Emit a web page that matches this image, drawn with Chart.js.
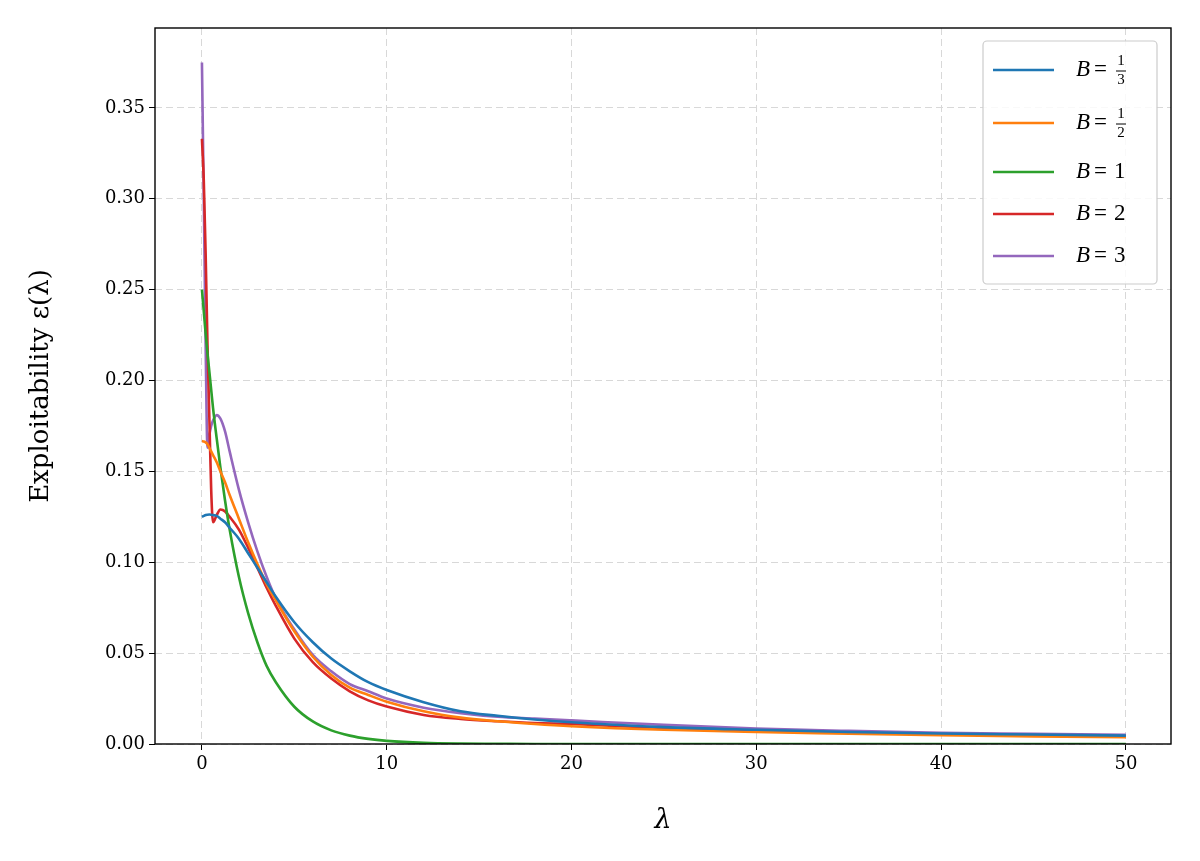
<!DOCTYPE html>
<html><head><meta charset="utf-8">
<script src="https://cdn.jsdelivr.net/npm/chart.js@4"></script>
<style>body{margin:0;background:#fff}#w{width:1200px;height:861px}</style>
</head><body><div id="w"><canvas id="c"></canvas></div>
<script>
const lambdas = [0,0.1,0.2,0.3,0.4,0.5,0.6,0.8,1.0,1.25,1.5,2,2.5,3,3.5,4,5,6,7,8,9,10,12,14,16,18,20,25,30,35,40,45,50];
const bThird = [0.125,0.1255,0.126,0.1262,0.1263,0.1262,0.126,0.1255,0.124,0.122,0.119,0.113,0.105,0.097,0.089,0.081,0.067,0.056,0.047,0.040,0.034,0.0297,0.023,0.018,0.0155,0.0135,0.012,0.0093,0.0078,0.0066,0.0058,0.0052,0.0046];
const bHalf = [0.1667,0.1665,0.166,0.165,0.163,0.161,0.159,0.155,0.150,0.144,0.137,0.124,0.111,0.099,0.088,0.079,0.062,0.048,0.038,0.031,0.027,0.0233,0.018,0.0145,0.0125,0.011,0.0098,0.0078,0.0066,0.0057,0.0048,0.0042,0.0037];
const bOne = [0.25,0.238,0.226,0.215,0.205,0.195,0.185,0.168,0.152,0.134,0.118,0.092,0.072,0.056,0.043,0.034,0.0205,0.0124,0.0075,0.0046,0.0028,0.0017,0.0006,0.0002,0.0001,0,0,0,0,0,0,0,0];
const bTwo = [0.333,0.31,0.27,0.22,0.18,0.14,0.122,0.126,0.129,0.128,0.125,0.118,0.108,0.097,0.086,0.076,0.058,0.045,0.036,0.029,0.024,0.0206,0.016,0.0138,0.0125,0.0115,0.011,0.0088,0.0073,0.0062,0.0053,0.0048,0.0043];
const bThree = [0.375,0.30,0.22,0.163,0.17,0.175,0.178,0.181,0.179,0.172,0.161,0.140,0.122,0.106,0.092,0.080,0.063,0.049,0.040,0.033,0.029,0.025,0.020,0.017,0.015,0.014,0.013,0.0105,0.0085,0.0072,0.0062,0.0056,0.005];
const xTicks = [0,10,20,30,40,50];
const yTicks = [0,0.05,0.10,0.15,0.20,0.25,0.30,0.35];
const legendLabels = [["1","3"],["1","2"],"1","2","3"];
const colors = ['#1f77b4','#ff7f0e','#2ca02c','#d62728','#9467bd'];
const series = [bThird,bHalf,bOne,bTwo,bThree];
const serif = "'DejaVu Serif', serif";

const datasets = series.map((s,i)=>({
  label:'B'+i, data: lambdas.map((x,j)=>({x, y:s[j]})),
  borderColor:colors[i], borderWidth:2.6, pointRadius:0, fill:false,
  cubicInterpolationMode:'monotone'
}));

const frame = {id:'frame', afterDraw(ch){
  const {ctx, chartArea:a} = ch;
  ctx.save(); ctx.strokeStyle='#000'; ctx.lineWidth=1.4;
  ctx.strokeRect(a.left,a.top,a.right-a.left,a.bottom-a.top);
  const lx=983, ly=41, lw=174, lh=243;
  ctx.fillStyle='rgba(255,255,255,0.85)'; ctx.strokeStyle='#ccc'; ctx.lineWidth=1.2;
  ctx.beginPath(); ctx.roundRect(lx,ly,lw,lh,4); ctx.fill(); ctx.stroke();
  const rows=[70,123,172,214,256];
  legendLabels.forEach((lab,i)=>{
    const y=rows[i];
    ctx.strokeStyle=colors[i]; ctx.lineWidth=2.6;
    ctx.beginPath(); ctx.moveTo(993,y); ctx.lineTo(1054,y); ctx.stroke();
    ctx.fillStyle='#000'; ctx.textBaseline='middle'; ctx.textAlign='left';
    ctx.font="italic 23px 'Liberation Serif', serif";
    ctx.fillText('B',1076,y);
    ctx.font="23px 'Liberation Serif', serif";
    ctx.fillText('=',1094,y);
    if (Array.isArray(lab)) {
      ctx.font="15px 'Liberation Serif', serif"; ctx.textAlign='center';
      ctx.fillText(lab[0],1121,y-9); ctx.fillText(lab[1],1121,y+10);
      ctx.lineWidth=1; ctx.strokeStyle='#000';
      ctx.beginPath(); ctx.moveTo(1116,y+1); ctx.lineTo(1126,y+1); ctx.stroke();
    } else {
      ctx.fillText(lab,1114,y);
    }
  });
  ctx.restore();
}};

new Chart(document.getElementById('c'), {
  type:'line',
  data:{datasets},
  options:{
    responsive:true, maintainAspectRatio:false, animation:false,
    layout:{padding:{top:28,right:29,left:0,bottom:0}},
    plugins:{legend:{display:false}, tooltip:{enabled:false}},
    scales:{
      x:{type:'linear', min:-2.54, max:52.44,
        afterBuildTicks:s=>{s.ticks=xTicks.map(v=>({value:v}));},
        afterFit:s=>{s.height=117;},
        grid:{color:'#d8d8d8', tickColor:'#000', tickLength:6, drawTicks:true},
        border:{display:false, dash:[7,4]},
        ticks:{color:'#000', font:{family:serif,size:18}, padding:4, maxRotation:0, callback:v=>String(v)},
        title:{display:true, text:'λ', color:'#000', font:{family:"'DejaVu Serif', serif", size:27, style:'italic'}, padding:{top:0,bottom:24}}
      },
      y:{type:'linear', min:0, max:0.394,
        afterBuildTicks:s=>{s.ticks=yTicks.map(v=>({value:v}));},
        afterFit:s=>{s.width=155;},
        grid:{color:'#d8d8d8', tickColor:'#000', tickLength:6},
        border:{display:false, dash:[7,4]},
        ticks:{color:'#000', font:{family:serif,size:18}, padding:4, callback:v=>v.toFixed(2)},
        title:{display:true, text:'Exploitability ε(λ)', color:'#000', font:{family:serif, size:26}, padding:{top:26,bottom:0}}
      }
    }
  },
  plugins:[frame]
});
</script></body></html>
